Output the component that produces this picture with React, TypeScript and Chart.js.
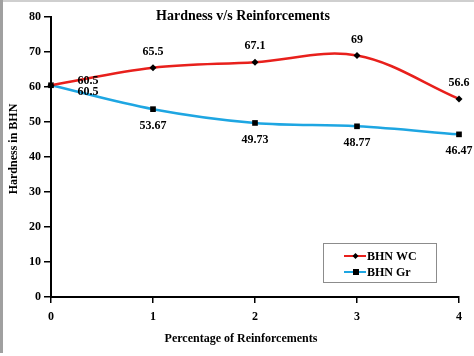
import React, { useEffect, useRef } from "react";
import { Chart, registerables } from "chart.js";

Chart.register(...registerables);

const categories = ["0", "1", "2", "3", "4"];
const bhnWC = [60.5, 65.5, 67.1, 69, 56.6];
const bhnGr = [60.5, 53.67, 49.73, 48.77, 46.47];
const wcLabels = ["60.5", "65.5", "67.1", "69", "56.6"];
const grLabels = ["60.5", "53.67", "49.73", "48.77", "46.47"];
const seriesNames = ["BHN WC", "BHN Gr"];
const chartTitle = "Hardness v/s Reinforcements";
const xTitle = "Percentage of Reinforcements";
const yTitle = "Hardness in BHN";
const yMin = 0;
const yMax = 80;
const yStep = 10;

const RED = "#e8201c";
const BLUE = "#1ea6e2";
const FONT = "'Liberation Serif', 'Times New Roman', serif";

const wcOffsets = [[37, -4], [0, -16], [0, -16], [0, -16], [0, -16]];
const grOffsets = [[37, 7], [0, 17], [0, 17], [0, 17], [0, 17]];

const decor = {
  id: "decor",
  beforeDraw(chart: any) {
    const ctx = chart.ctx;
    ctx.save();
    ctx.fillStyle = "#ffffff";
    ctx.fillRect(0, 0, chart.width, chart.height);
    ctx.fillStyle = "#cfcfcf";
    ctx.fillRect(0, 0, chart.width, 2);
    ctx.fillStyle = "#a0a0a0";
    ctx.fillRect(0, 0, 3, 353);
    ctx.restore();
  },
  afterDatasetsDraw(chart: any) {
    const ctx = chart.ctx;
    ctx.save();
    ctx.font = `bold 12px ${FONT}`;
    ctx.fillStyle = "#000";
    ctx.textAlign = "center";
    ctx.textBaseline = "middle";
    const sets = [
      { labels: wcLabels, offs: wcOffsets },
      { labels: grLabels, offs: grOffsets },
    ];
    sets.forEach((s, di) => {
      const meta = chart.getDatasetMeta(di);
      meta.data.forEach((pt: any, i: number) => {
        ctx.fillText(s.labels[i], pt.x + s.offs[i][0], pt.y + s.offs[i][1]);
      });
    });
    ctx.restore();
  },
  afterDraw(chart: any) {
    const ctx = chart.ctx;
    ctx.save();
    ctx.fillStyle = "#000";
    ctx.textAlign = "center";
    ctx.textBaseline = "middle";
    ctx.font = `bold 14px ${FONT}`;
    ctx.fillText(chartTitle, 243, 16);
    ctx.font = `bold 12px ${FONT}`;
    ctx.fillText(xTitle, 241, 339);
    ctx.save();
    ctx.translate(14, 149);
    ctx.rotate(-Math.PI / 2);
    ctx.fillText(yTitle, 0, 0);
    ctx.restore();

    // legend
    const lx = 323, ly = 243, lw = 113, lh = 39;
    ctx.fillStyle = "#fff";
    ctx.fillRect(lx, ly, lw, lh);
    ctx.strokeStyle = "#8c8c8c";
    ctx.lineWidth = 1;
    ctx.strokeRect(lx + 0.5, ly + 0.5, lw, lh);
    const rows = [
      { y: ly + 13, color: RED, marker: "diamond", name: seriesNames[0] },
      { y: ly + 29, color: BLUE, marker: "square", name: seriesNames[1] },
    ];
    rows.forEach((r) => {
      ctx.strokeStyle = r.color;
      ctx.lineWidth = 2;
      ctx.beginPath();
      ctx.moveTo(344, r.y);
      ctx.lineTo(366, r.y);
      ctx.stroke();
      ctx.fillStyle = "#000";
      if (r.marker === "diamond") {
        ctx.beginPath();
        ctx.moveTo(355.5, r.y - 3);
        ctx.lineTo(358.5, r.y);
        ctx.lineTo(355.5, r.y + 3);
        ctx.lineTo(352.5, r.y);
        ctx.closePath();
        ctx.fill();
      } else {
        ctx.fillRect(353, r.y - 3, 6, 6);
      }
      ctx.textAlign = "left";
      ctx.font = `bold 12px ${FONT}`;
      ctx.fillText(r.name, 367, r.y + 1);
    });
    ctx.restore();
  },
};

export default function App() {
  const ref = useRef<HTMLCanvasElement | null>(null);
  useEffect(() => {
    document.body.style.margin = "0";
    if (!ref.current) return;
    const chart = new Chart(ref.current, {
      type: "line",
      data: {
        labels: categories,
        datasets: [
          {
            label: seriesNames[0],
            data: bhnWC,
            borderColor: RED,
            backgroundColor: "#000",
            borderWidth: 2.5,
            tension: 0.35,
            pointStyle: "rectRot",
            pointRadius: 3.5,
            pointBorderWidth: 0,
            pointBackgroundColor: "#000",
            pointBorderColor: "#000",
            clip: false,
          } as any,
          {
            label: seriesNames[1],
            data: bhnGr,
            borderColor: BLUE,
            backgroundColor: "#000",
            borderWidth: 2.5,
            tension: 0.35,
            pointStyle: "rect",
            pointRadius: 4,
            pointBorderWidth: 0,
            pointBackgroundColor: "#000",
            pointBorderColor: "#000",
            clip: false,
          } as any,
        ],
      },
      options: {
        responsive: false,
        animation: false,
        layout: { padding: { top: 17, right: 15, left: 0, bottom: 0 } },
        plugins: {
          legend: { display: false },
          title: { display: false },
          tooltip: { enabled: false },
        },
        scales: {
          x: {
            type: "category",
            offset: false,
            afterFit: (s: any) => {
              s.height = 59;
            },
            grid: {
              drawOnChartArea: false,
              drawTicks: true,
              tickLength: 6,
              color: "#000",
              lineWidth: 1.5,
            },
            border: { color: "#000", width: 2 },
            ticks: {
              color: "#000",
              padding: 7,
              maxRotation: 0,
              font: { family: FONT, size: 12, weight: "bold" },
            },
          },
          y: {
            min: yMin,
            max: yMax,
            afterFit: (s: any) => {
              s.width = 51;
            },
            grid: {
              drawOnChartArea: false,
              drawTicks: true,
              tickLength: 7,
              color: "#000",
              lineWidth: 1.5,
            },
            border: { color: "#000", width: 2 },
            ticks: {
              stepSize: yStep,
              color: "#000",
              padding: 3,
              font: { family: FONT, size: 12, weight: "bold" },
            },
          },
        },
      },
      plugins: [decor],
    });
    return () => chart.destroy();
  }, []);
  return (
    <div style={{ width: 474, height: 356 }}>
      <canvas ref={ref} width={474} height={356} />
    </div>
  );
}
